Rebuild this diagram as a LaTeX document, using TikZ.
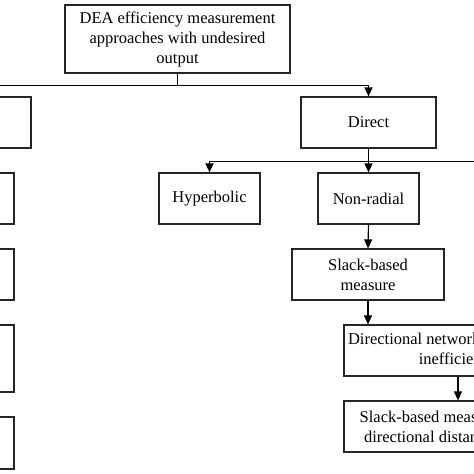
\documentclass[tikz,border=0pt]{standalone}
\usepackage{fontspec}
\setmainfont{Liberation Serif}
\usetikzlibrary{arrows.meta}

\begin{document}
\begin{tikzpicture}[->,>={Triangle[length=9pt,width=8pt]},x=1pt,y=-1pt,line width=1.2pt,
  box/.style={rectangle,draw=black!85,align=center,inner sep=3pt,minimum height=51,font=\fontsize{16.5}{20}\selectfont}]

  \useasboundingbox (0,0) rectangle (474,474);
  \clip (0,0) rectangle (474,474);

  \node[box,minimum width=225,minimum height=68] (dea) at (177.5,39) {DEA efficiency measurement\\approaches with undesired\\output};
  \node[box,minimum width=135] (indirect) at (-36.5,122.5) {};
  \node[box,minimum width=135] (direct) at (368.5,122.5) {Direct};

  % indirect side (cut off on the left)
  \node[box,minimum width=101] (ind1) at (-36.5,198.5) {};
  \node[box,minimum width=101] (ind2) at (-36.5,274.5) {};
  \node[box,minimum width=101,minimum height=67] (ind3) at (-36.5,358.5) {};
  \node[box,minimum width=101,minimum height=52] (ind4) at (-36.5,443) {};

  % direct side
  \node[box,minimum width=101] (hyper) at (209.5,198.5) {Hyperbolic};
  \node[box,minimum width=101] (nonrad) at (368.5,198.5) {Non-radial};
  \node[box,minimum width=101] (other) at (560,198.5) {};
  \node[box,minimum width=152] (sbm) at (368,274.5) {Slack-based\\measure};
  \node[box,minimum width=228] (dnet) at (458,350.5) {Directional network\hphantom{ slacks-based}\\inefficiency};
  \node[box,minimum width=228] (sbmdd) at (458,426.5) {Slack-based measure\hphantom{ with the}\\directional distance\hphantom{ function}};

  \draw (dea.south) -- ++(0,12) -| (indirect.north);
  \draw (dea.south) -- ++(0,12) -| (direct.north);
  \draw (direct.south) -- ++(0,13) -| (hyper.north);
  \draw (direct.south) -- ++(0,13) -| (nonrad.north);
  \draw (direct.south) -- ++(0,13) -| (other.north);
  \draw (nonrad.south) -- (sbm.north);
  \draw (sbm.south) -- (sbm.south |- dnet.north);
  \draw (dnet.south) -- (sbmdd.north);

\end{tikzpicture}
\end{document}
